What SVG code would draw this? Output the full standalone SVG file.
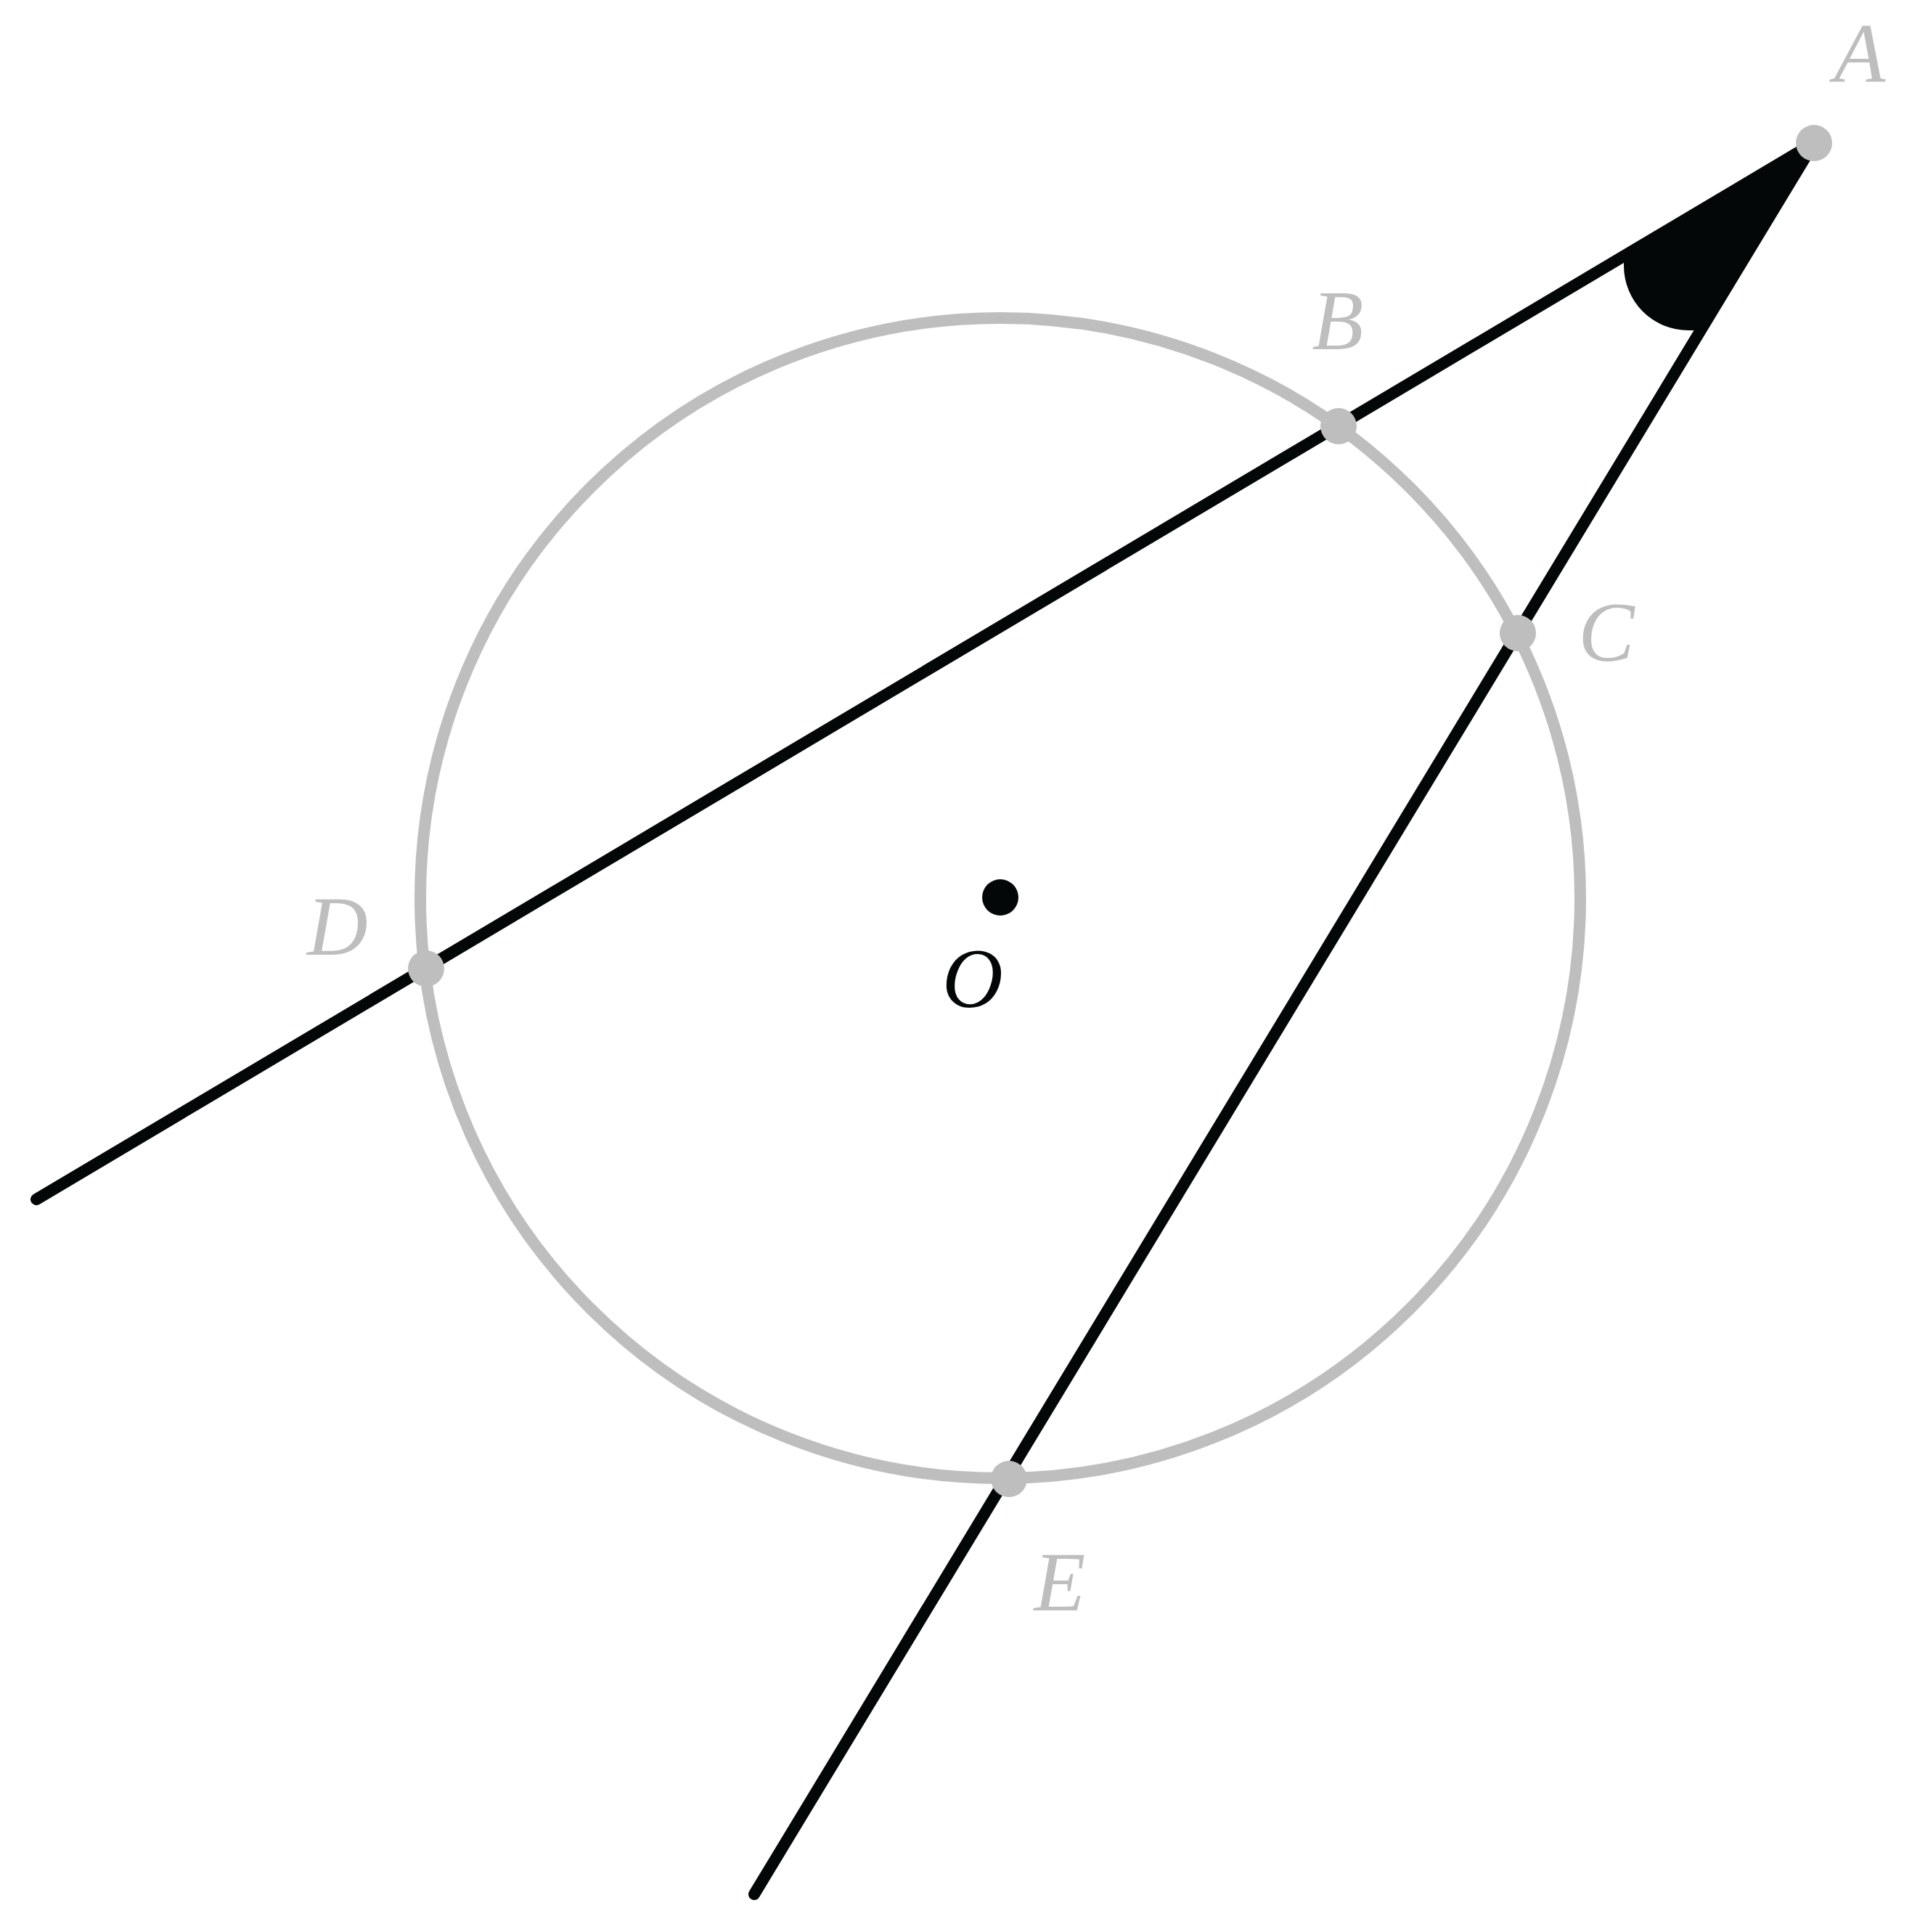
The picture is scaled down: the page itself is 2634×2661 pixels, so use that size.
<svg xmlns="http://www.w3.org/2000/svg" width="2634" height="2661" viewBox="0 0 2634 2661">
<style>
.ln{stroke:#040707;stroke-width:16;stroke-linecap:round;fill:none}
.cir{stroke:#bebebe;stroke-width:16;fill:none}
.pt{fill:#bebebe}
.lbl{font-family:"Liberation Serif","DejaVu Serif",serif;font-style:italic;font-size:116px;fill:#bebebe;text-anchor:middle}
.lblo{fill:#040707}
</style>
<rect width="2634" height="2661" fill="#ffffff"/>
<g id="circle"><circle class="cir" cx="1378" cy="1237" r="799"/></g>
<g id="connectors">
<line class="ln" x1="2499" y1="197" x2="50" y2="1652"/>
<line class="ln" x1="2499" y1="197" x2="1039" y2="2609"/>
<path id="angle" d="M2499 197 L2237 353 L2237 366 A89 89 0 0 0 2326 455 L2343 455 Z" fill="#040707"/>
</g>
<g id="nodeA"><circle class="pt" cx="2499" cy="197" r="25"/><text class="lbl" x="2562" y="113">A</text></g>
<g id="nodeB"><circle class="pt" cx="1844" cy="587" r="25"/><text class="lbl" x="1843" y="481">B</text></g>
<g id="nodeC"><circle class="pt" cx="2091" cy="872" r="25"/><text class="lbl" x="2213" y="910">C</text></g>
<g id="nodeD"><circle class="pt" cx="587" cy="1334" r="25"/><text class="lbl" x="465" y="1315">D</text></g>
<g id="nodeE"><circle class="pt" cx="1390" cy="2037" r="25"/><text class="lbl" x="1460" y="2218">E</text></g>
<g id="nodeO"><circle cx="1378" cy="1236" r="25" fill="#040707"/><text class="lbl lblo" x="1340" y="1387">O</text></g>
</svg>
